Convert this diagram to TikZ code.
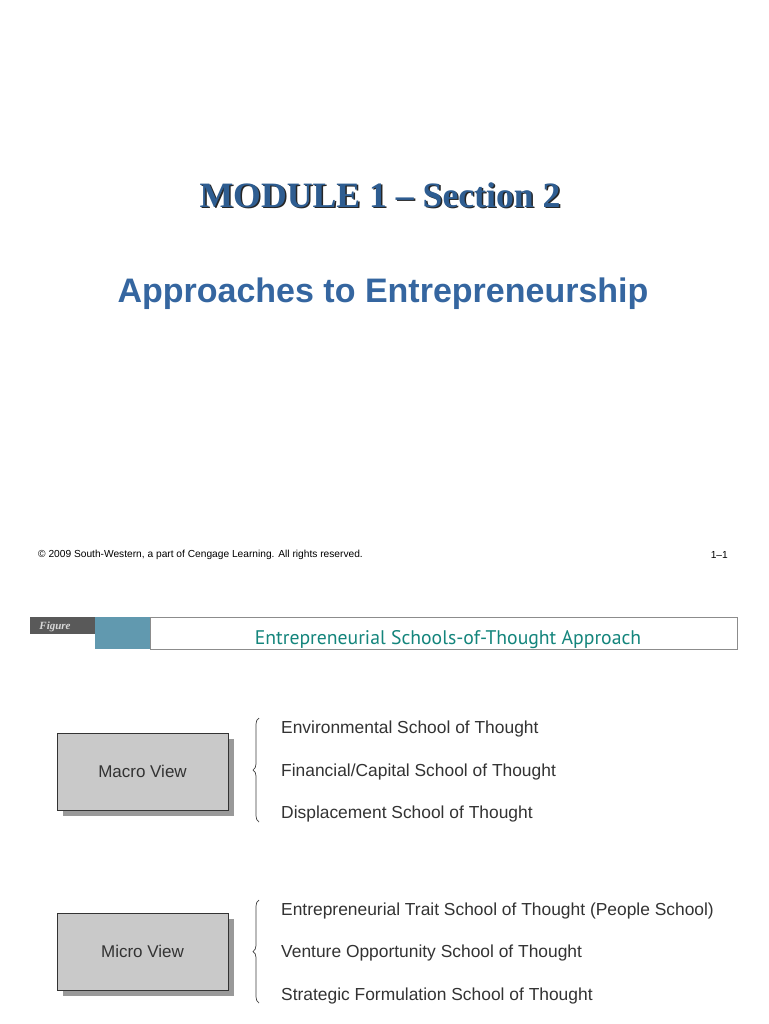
\documentclass[tikz,border=0pt]{standalone}
\usepackage{fontspec}
\setmainfont{Liberation Serif}
\setsansfont{Liberation Sans}
\newfontfamily\headfont{PT Sans}
\usetikzlibrary{positioning,decorations.pathreplacing}

\definecolor{titleblue}{HTML}{2E5D91}
\definecolor{subblue}{HTML}{3566A0}
\definecolor{figteal}{HTML}{6199AF}
\definecolor{figdark}{HTML}{595959}
\definecolor{headteal}{HTML}{14857C}
\definecolor{viewgray}{HTML}{C9C9C9}
\definecolor{textgray}{HTML}{333333}

\tikzset{
  viewbox/.style={draw=black!80,fill=viewgray,minimum width=171pt,minimum height=77pt,
    font=\sffamily\fontsize{17}{20}\selectfont,text=textgray},
  viewshadow/.style={fill=black!40,minimum width=171pt,minimum height=77pt},
  school/.style={anchor=west,font=\sffamily\fontsize{17.4}{20}\selectfont,text=textgray,inner sep=0pt},
  bracket/.style={draw=black!75,line width=0.7pt,decorate,decoration={brace,amplitude=6pt}}
}

\begin{document}
\begin{tikzpicture}[x=1pt,y=-1pt]
\useasboundingbox[fill=white] (0,0) rectangle (768,1024);

% slide title
\node[text=black!85,font=\bfseries\fontsize{35.7}{40}\selectfont] at (381.5,196.5) {MODULE 1 -- Section 2};
\node[text=titleblue,font=\bfseries\fontsize{35.7}{40}\selectfont] (title) at (380,195) {MODULE 1 -- Section 2};
\node[text=subblue,font=\sffamily\bfseries\fontsize{34}{40}\selectfont] (subtitle) at (383,294) {Approaches to Entrepreneurship};

\node[anchor=west,font=\sffamily\fontsize{10.2}{12}\selectfont,inner sep=0pt] (copy) at (38,555) {\textcopyright{} 2009 South-Western, a part of Cengage Learning. All rights reserved.};
\node[anchor=east,font=\sffamily\fontsize{10.2}{12}\selectfont,inner sep=0pt] (page) at (728,555) {1--1};

% figure header
\fill[figdark] (30,617) rectangle (95,634);
\node[text=white!85!black,font=\bfseries\itshape\fontsize{11}{13}\selectfont] (fig) at (55,627) {Figure};
\fill[figteal] (95,617) rectangle (150,649);
\draw[black!45,fill=white] (150,617) rectangle (737,649);
\node[text=headteal,font=\headfont\fontsize{19.7}{23}\selectfont] (head) at (448,640) {Entrepreneurial Schools-of-Thought Approach};

% macro view
\node[viewshadow] at (148,777) {};
\node[viewbox] (macro) at (142.5,771.5) {Macro View};
\node[school] (env) at (281,729) {Environmental School of Thought};
\node[school] (fin) at (281,772) {Financial/Capital School of Thought};
\node[school] (dis) at (281,814) {Displacement School of Thought};
\coordinate (mtop) at (259,718);
\coordinate (mbot) at (259,822);
\draw[bracket] (mbot) -- (mtop);

% micro view
\node[viewshadow] at (148,957) {};
\node[viewbox] (micro) at (142.5,951.5) {Micro View};
\node[school] (trait) at (281,911) {Entrepreneurial Trait School of Thought (People School)};
\node[school] (vent) at (281,953) {Venture Opportunity School of Thought};
\node[school] (strat) at (281,996) {Strategic Formulation School of Thought};
\coordinate (itop) at (259,900);
\coordinate (ibot) at (259,1003);
\draw[bracket] (ibot) -- (itop);

\end{tikzpicture}
\end{document}
